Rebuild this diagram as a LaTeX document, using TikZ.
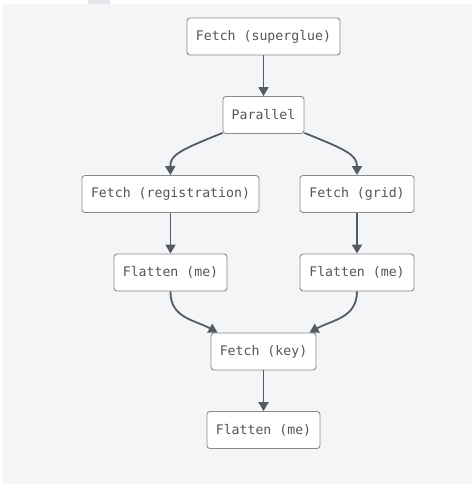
\documentclass[tikz,border=0pt]{standalone}
\usepackage{fontspec}
\setmonofont{DejaVu Sans Mono}
\usetikzlibrary{arrows.meta}
\definecolor{bgc}{HTML}{F4F5F7}
\definecolor{edgec}{HTML}{555B65}
\definecolor{boxc}{HTML}{8A8A8A}
\definecolor{txtc}{HTML}{555555}
\definecolor{tabc}{HTML}{E4E6EA}
\tikzset{
  box/.style={draw=boxc, line width=0.9pt, fill=white, rounded corners=3pt,
    minimum height=37pt, inner xsep=0pt, text=txtc,
    font=\ttfamily\fontsize{13.2}{15}\selectfont},
  conn/.style={draw=edgec, line width=1.8pt, -{Triangle[length=9pt,width=10pt]}}
}
\begin{document}
\begin{tikzpicture}[x=1pt,y=-1pt]
\useasboundingbox (0,0) rectangle (474,488);
\fill[white] (0,0) rectangle (474,488);
\fill[bgc] (3,4) rectangle (472,484);
\fill[tabc] (88,0) rectangle (110,4);
\node[box, minimum width=153pt] (a) at (263.5,36.5) {Fetch (superglue)};
\node[box, minimum width=81pt] (p) at (263.5,115) {Parallel};
\node[box, minimum width=177pt] (r) at (170.5,194) {Fetch (registration)};
\node[box, minimum width=114pt] (g) at (357,194) {Fetch (grid)};
\node[box, minimum width=113pt] (fl) at (170.5,272.5) {Flatten (me)};
\node[box, minimum width=114pt] (fr) at (357,272.5) {Flatten (me)};
\node[box, minimum width=105pt] (k) at (263.5,351.5) {Fetch (key)};
\node[box, minimum width=113pt] (fb) at (263.5,430) {Flatten (me)};
\draw[conn] (a) -- (p);
\draw[conn] (p.south west) ++(0,-1) .. controls (180,150) and (170,155) .. (r.north);
\draw[conn] (p.south east) ++(0,-1) .. controls (347,150) and (357,155) .. (g.north);
\draw[conn] (r) -- (fl);
\draw[conn] (g) -- (fr);
\draw[conn] (fl.south) .. controls (170,318) and (195,320) .. ([xshift=7pt]k.north west);
\draw[conn] (fr.south) .. controls (357,318) and (332,320) .. ([xshift=-7pt]k.north east);
\draw[conn] (k) -- (fb);
\end{tikzpicture}
\end{document}
